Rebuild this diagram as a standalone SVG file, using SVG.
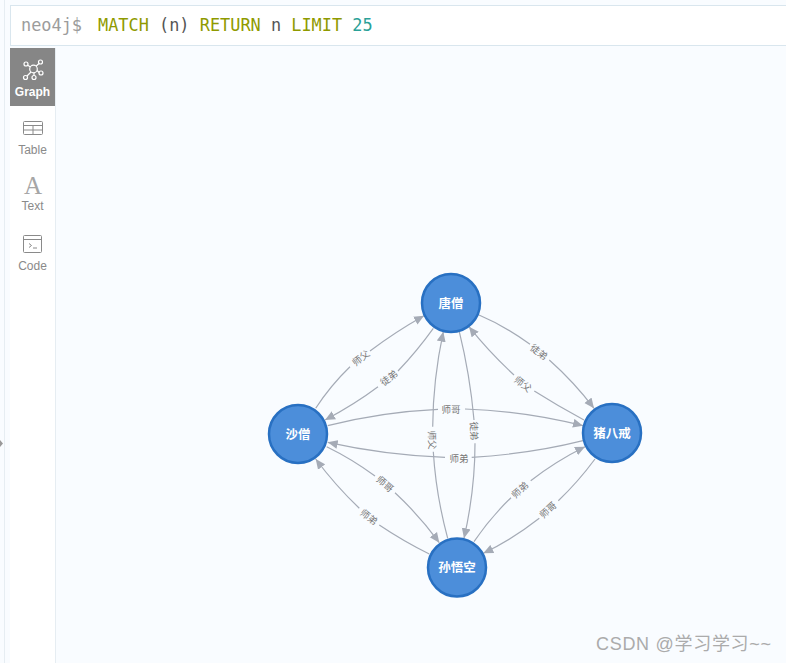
<svg xmlns="http://www.w3.org/2000/svg" width="786" height="663" viewBox="0 0 786 663">
<style>
.e{fill:none;stroke:#a5abb6;stroke-width:1.2;}
.a{marker-end:url(#arrow);}
.l{font:9.5px "Liberation Sans","Noto Sans CJK SC",sans-serif;fill:#777;text-anchor:middle;dominant-baseline:central;}
.n{fill:#4c8eda;stroke:#2870c2;stroke-width:2.5;}
.t{font:bold 12.500px "Liberation Sans","Noto Sans CJK SC",sans-serif;fill:#fff;text-anchor:middle;dominant-baseline:central;}
.m{font:16.900px "DejaVu Sans Mono",monospace;}
.s{font:12px "Liberation Sans",sans-serif;fill:#8a8a8a;text-anchor:middle;}
.i{fill:none;stroke:#8a8a8a;stroke-width:1;}
</style>
<defs>
<marker id="arrow" markerUnits="userSpaceOnUse" markerWidth="11" markerHeight="10" refX="10" refY="5" orient="auto">
<path d="M0 0.5L10 5L0 9.5Z" fill="#a5abb6"/>
</marker>
</defs>
<rect width="786" height="663" fill="#f9fcff"/>
<g id="sidebar">
<rect x="4" y="0" width="1" height="663" fill="#e6edf2"/>
<rect x="10" y="48" width="45" height="615" fill="#fff"/>
<rect x="55" y="48" width="1" height="615" fill="#e6edf2"/>
<rect x="10" y="48" width="45" height="58" fill="#868686"/>
<g fill="none" stroke="#fff" stroke-width="1.200">
<circle cx="33.500" cy="69" r="3.800"/><circle cx="26" cy="64" r="2"/><circle cx="40.500" cy="62" r="2"/><circle cx="41" cy="73" r="2"/><circle cx="25.500" cy="77.500" r="2"/><circle cx="34" cy="77.500" r="2"/>
<path d="M27.700 65.300L30.500 67M39 63.500L36 66.200M39 72.500L37.200 70.500M27 76L31 72M34 75.500V72.800"/>
</g>
<text x="32.500" y="96" text-anchor="middle" style="font:bold 12px 'Liberation Sans',sans-serif" fill="#fff">Graph</text>
<rect class="i" x="23.500" y="121.500" width="19" height="13" rx="1"/>
<path class="i" d="M23.500 125.500H42.500M23.500 130H42.500M33 125.500V134.500"/>
<text class="s" x="32.500" y="154">Table</text>
<text x="33" y="194" text-anchor="middle" style="font:25px 'Liberation Serif',serif" fill="#a6a6a6">A</text>
<text class="s" x="32.500" y="210">Text</text>
<rect class="i" x="23.500" y="235.500" width="18" height="17" rx="1"/>
<path class="i" d="M23.500 239.500H41.500M29 243.500L31.500 245.500L29 247.500M33 248H37"/>
<text class="s" x="32.500" y="270">Code</text>
<path d="M0 440L3 443.500L0 447Z" fill="#999"/>
</g>
<g id="header">
<rect x="10.500" y="5.500" width="780" height="40" fill="#fff" stroke="#d9e6ee"/>
<text class="m" x="21" y="31" fill="#9c9c9c">neo4j$</text>
<text class="m" x="98" y="31" xml:space="preserve"><tspan fill="#8f9a00">MATCH</tspan><tspan fill="#555"> (n) </tspan><tspan fill="#8f9a00">RETURN</tspan><tspan fill="#555"> n </tspan><tspan fill="#8f9a00">LIMIT</tspan><tspan fill="#2aa198"> 25</tspan></text>
</g>
<g id="connectors">
<path class="e" d="M315.700 408.300Q330 386 350 366.700"/><path class="e a" d="M370 351Q395 332 424 315.700"/>
<path class="e" d="M433.300 328.300Q417 351 398 371"/><path class="e a" d="M378 386.700Q355 404 325 420"/>
<path class="e" d="M327.700 425.700Q380 412 438 409.300"/><path class="e a" d="M465 409Q525 411 583 425.700"/>
<path class="e" d="M583 440.700Q530 454 471.700 457.300"/><path class="e a" d="M445 457.300Q385 455 327.700 442.300"/>
<path class="e" d="M447.700 538.300Q436 495 433.300 451.700"/><path class="e a" d="M432.700 426.700Q433 380 443.300 331.700"/>
<path class="e" d="M459.300 331.700Q470 375 474 420"/><path class="e a" d="M475 443.300Q475 490 464 538.300"/>
<path class="e" d="M479 315Q505 326 530 344.300"/><path class="e a" d="M549.300 360Q574 382 594 408.300"/>
<path class="e" d="M584 420Q558 406 534.300 391"/><path class="e a" d="M514 375Q489 352 469 326.700"/>
<path class="e" d="M326.700 446.700Q352 459 375 476"/><path class="e a" d="M395 492.700Q419 515 439.300 542.700"/>
<path class="e" d="M429.300 554Q403 541 379.300 525"/><path class="e a" d="M359.300 508.300Q335 485 315.700 459"/>
<path class="e" d="M474 541.700Q490 518 511 497.700"/><path class="e a" d="M530.700 480.700Q556 461 585 446.700"/>
<path class="e" d="M595 459Q578 482 558.300 500.700"/><path class="e a" d="M539.300 518.300Q513 539 483.300 553.300"/>
<text class="l" transform="translate(361 358) rotate(-37)">师父</text>
<text class="l" transform="translate(389 378) rotate(-37)">徒弟</text>
<text class="l" transform="translate(451 409)">师哥</text>
<text class="l" transform="translate(459 458)">师弟</text>
<text class="l" transform="translate(432 440) rotate(88)">师父</text>
<text class="l" transform="translate(474 431) rotate(88)">徒弟</text>
<text class="l" transform="translate(539 352) rotate(38)">徒弟</text>
<text class="l" transform="translate(523 384) rotate(38)">师父</text>
<text class="l" transform="translate(385 484) rotate(40)">师哥</text>
<text class="l" transform="translate(369 517) rotate(38)">师弟</text>
<text class="l" transform="translate(520 490) rotate(-42)">师弟</text>
<text class="l" transform="translate(548 510) rotate(-42)">师哥</text>
</g>
<g id="node-tangseng"><circle class="n" cx="451" cy="303" r="29"/><text class="t" x="451" y="304">唐僧</text></g>
<g id="node-shaseng"><circle class="n" cx="298" cy="434" r="29"/><text class="t" x="298" y="435">沙僧</text></g>
<g id="node-zhubajie"><circle class="n" cx="612" cy="433" r="29"/><text class="t" x="612" y="434">猪八戒</text></g>
<g id="node-sunwukong"><circle class="n" cx="457" cy="567.500" r="29"/><text class="t" x="457" y="568">孙悟空</text></g>
<text x="596" y="650" style="font:18px 'Liberation Sans','Noto Sans CJK SC',sans-serif;letter-spacing:.7px" fill="#ababab">CSDN @学习学习~~</text>
</svg>
